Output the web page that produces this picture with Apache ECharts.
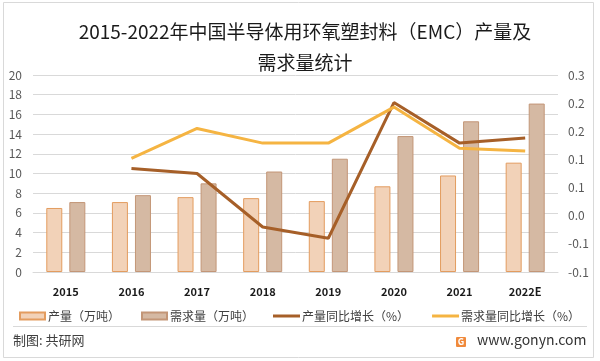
<!DOCTYPE html>
<html>
<head>
<meta charset="utf-8">
<script src="https://cdn.jsdelivr.net/npm/echarts@6/dist/echarts.min.js"></script>
<style>
html,body{margin:0;padding:0;background:#fff;}
#chart{width:600px;height:361px;}
</style>
</head>
<body>
<div id="chart"></div>
<script>
var categories = ['2015','2016','2017','2018','2019','2020','2021','2022E'];
var production = [6.5, 7.1, 7.6, 7.5, 7.2, 8.7, 9.8, 11.1];
var demand = [7.1, 7.8, 9.0, 10.2, 11.5, 13.8, 15.3, 17.1];
var productionGrowth = [null, 0.084, 0.075, -0.020, -0.040, 0.201, 0.129, 0.138];
var demandGrowth = [null, 0.102, 0.155, 0.129, 0.129, 0.193, 0.120, 0.115];
var seriesNames = ['产量（万吨）', '需求量（万吨）', '产量同比增长（%）', '需求量同比增长（%）'];
var titleText = '2015-2022年中国半导体用环氧塑封料（EMC）产量及\n需求量统计';

var FONT = '"Noto Sans CJK SC", "Noto Sans", sans-serif';
var chart = echarts.init(document.getElementById('chart'), null, {renderer: 'canvas'});

function fmtRight(v) {
  var s = v < 0 ? -1 : 1;
  var r = Math.round(Math.abs(v) * 10 + 1e-9) / 10;
  return (s < 0 && r !== 0 ? '-' : '') + r.toFixed(1);
}

var option = {
  backgroundColor: '#ffffff',
  animation: false,
  textStyle: {fontFamily: FONT},
  title: {
    text: titleText,
    left: 300,
    top: 11,
    textAlign: 'center',
    textStyle: {fontFamily: FONT, fontSize: 19, fontWeight: 'normal', color: '#1a1a1a', lineHeight: 31}
  },
  grid: {left: 33, right: 42, top: 75, bottom: 89, containLabel: false},
  legend: [
    {
      data: [seriesNames[0], seriesNames[1]],
      left: 19, top: 310, padding: 0,
      itemWidth: 25, itemHeight: 7, itemGap: 21,
      icon: 'rect',
      textStyle: {fontFamily: FONT, fontSize: 12, color: '#404040', padding: [0,0,0,-2]}
    },
    {
      data: [seriesNames[2], seriesNames[3]],
      left: 273, top: 310, padding: 0,
      itemWidth: 27, itemHeight: 3, itemGap: 23,
      icon: 'rect',
      textStyle: {fontFamily: FONT, fontSize: 12, color: '#404040', padding: [0,0,0,-3]}
    }
  ],
  xAxis: {
    type: 'category',
    data: categories,
    axisLine: {lineStyle: {color: '#d9d9d9'}},
    axisTick: {show: false},
    axisLabel: {fontFamily: FONT, fontSize: 11, fontWeight: 'bold', color: '#1a1a1a', margin: 14}
  },
  yAxis: [
    {
      type: 'value', min: 0, max: 20, interval: 2,
      axisLine: {show: false}, axisTick: {show: false},
      splitLine: {lineStyle: {color: '#d9d9d9'}},
      axisLabel: {fontFamily: FONT, fontSize: 12, color: '#595959', margin: 11}
    },
    {
      type: 'value', min: -0.1, max: 0.25, interval: 0.05,
      axisLine: {show: false}, axisTick: {show: false},
      splitLine: {show: false},
      axisLabel: {fontFamily: FONT, fontSize: 12, color: '#595959', margin: 10, formatter: fmtRight}
    }
  ],
  series: [
    {
      name: seriesNames[0], type: 'bar', data: production,
      barWidth: 16, barGap: '44%',
      itemStyle: {color: '#F2D2B8', borderColor: '#E39C5F', borderWidth: 1}
    },
    {
      name: seriesNames[1], type: 'bar', data: demand,
      barWidth: 16,
      itemStyle: {color: '#D5B9A3', borderColor: '#C39677', borderWidth: 1}
    },
    {
      name: seriesNames[2], type: 'line', yAxisIndex: 1, data: productionGrowth,
      showSymbol: false, symbol: 'none',
      lineStyle: {color: '#A65F28', width: 3},
      itemStyle: {color: '#A65F28'}
    },
    {
      name: seriesNames[3], type: 'line', yAxisIndex: 1, data: demandGrowth,
      showSymbol: false, symbol: 'none',
      lineStyle: {color: '#F5B442', width: 3},
      itemStyle: {color: '#F5B442'}
    }
  ],
  graphic: [
    {type: 'rect', shape: {x: 3.5, y: 2.5, width: 590, height: 355}, style: {fill: 'none', stroke: '#d9d9d9', lineWidth: 1}, silent: true, z: -1},
    {type: 'line', shape: {x1: 13, y1: 326.5, x2: 587, y2: 326.5}, style: {stroke: '#d9d9d9', lineWidth: 1}, silent: true},
    {type: 'text', left: 13, top: 334, style: {text: '制图: 共研网', font: '13px ' + FONT, fill: '#404040'}},
    {type: 'rect', shape: {x: 456, y: 337, width: 10, height: 10, r: 1}, style: {fill: '#F08A3C'}},
    {type: 'text', x: 461, y: 342, style: {text: 'G', font: 'bold 9px ' + FONT, fill: '#ffffff', align: 'center', verticalAlign: 'middle'}},
    {type: 'text', left: 477, top: 333, style: {text: 'www.gonyn.com', font: '14px ' + FONT, fill: '#333333'}}
  ]
};
chart.setOption(option);
</script>
</body>
</html>
